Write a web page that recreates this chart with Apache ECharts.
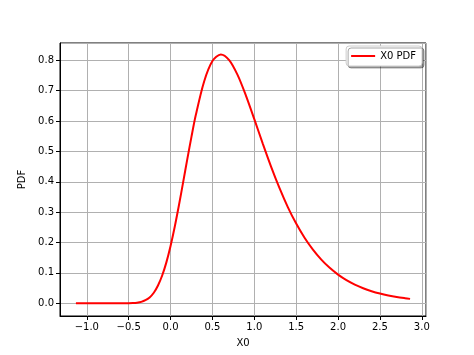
<!DOCTYPE html>
<html>
<head>
<meta charset="utf-8">
<script src="https://cdn.jsdelivr.net/npm/echarts@6/dist/echarts.min.js"></script>
<style>
  html, body { margin: 0; padding: 0; background: #fff; }
  #chart { width: 474px; height: 355px; }
</style>
</head>
<body>
<div id="chart"></div>
<script>
// values
const xs = [-1.13, -1.0, -0.8, -0.6, -0.5, -0.45, -0.4, -0.35, -0.3, -0.25, -0.2, -0.15, -0.1, -0.05,
  0.0, 0.05, 0.1, 0.15, 0.2, 0.25, 0.3, 0.4, 0.5, 0.6, 0.7, 0.8, 0.9, 1.0, 1.1, 1.2, 1.3, 1.4,
  1.5, 1.6, 1.7, 1.8, 1.9, 2.0, 2.1, 2.2, 2.3, 2.4, 2.5, 2.6, 2.7, 2.8, 2.86];
const pdf = [0.0, 0.0, 0.0, 0.0, 0.0002, 0.0007, 0.002, 0.0046, 0.0100, 0.0193, 0.0347, 0.0584, 0.0913, 0.1346,
  0.1887, 0.252, 0.3227, 0.398, 0.4746, 0.5486, 0.618, 0.7296, 0.7975, 0.8193, 0.8006, 0.7518, 0.6837, 0.6062, 0.5265, 0.450, 0.3797, 0.3167,
  0.2623, 0.2156, 0.1764, 0.1435, 0.1165, 0.0943, 0.0761, 0.0614, 0.0494, 0.0397, 0.0319, 0.0256, 0.0205, 0.0165, 0.0144];
const seriesName = 'X0 PDF';

const chart = echarts.init(document.getElementById('chart'));
const font = 'DejaVu Sans';

chart.setOption({
  animation: false,
  grid: {
    left: 60, top: 43, right: 48, bottom: 39,
    show: true, borderColor: '#000', borderWidth: 1
  },
  legend: {
    data: [seriesName],
    right: 52, top: 46,
    itemWidth: 24, itemHeight: 2,
    icon: 'rect',
    padding: [5, 6, 5, 5],
    backgroundColor: '#fff',
    borderColor: '#ccc', borderWidth: 1, borderRadius: 3,
    shadowBlur: 0, shadowColor: 'rgba(0,0,0,0.35)', shadowOffsetX: 2, shadowOffsetY: 2,
    textStyle: { color: '#000', fontFamily: font, fontSize: 10 }
  },
  xAxis: {
    type: 'value',
    min: -1.32, max: 3.05,
    splitNumber: 8,
    name: 'X0', nameLocation: 'middle', nameGap: 22,
    nameTextStyle: { color: '#000', fontFamily: font, fontSize: 10 },
    axisLine: { onZero: false, lineStyle: { color: '#000', width: 1 } },
    axisTick: { length: 4, lineStyle: { color: '#000' } },
    axisLabel: { color: '#000', fontFamily: font, fontSize: 10, margin: 6,
      showMinLabel: false, showMaxLabel: false,
      formatter: v => v.toFixed(1).replace('-', '\u2212') },
    splitLine: { show: true, lineStyle: { color: '#b0b0b0', width: 1 } }
  },
  yAxis: {
    type: 'value',
    min: -0.042, max: 0.857,
    splitNumber: 9,
    name: 'PDF', nameLocation: 'middle', nameGap: 33, nameRotate: 90,
    nameTextStyle: { color: '#000', fontFamily: font, fontSize: 10 },
    axisLine: { show: true, onZero: false, lineStyle: { color: '#000', width: 1 } },
    axisTick: { show: true, length: 4, lineStyle: { color: '#000' } },
    axisLabel: { color: '#000', fontFamily: font, fontSize: 10, margin: 6,
      showMinLabel: false, showMaxLabel: false,
      formatter: v => v.toFixed(1) },
    splitLine: { show: true, lineStyle: { color: '#b0b0b0', width: 1 } }
  },
  series: [{
    name: seriesName,
    type: 'line',
    data: xs.map((x, i) => [x, pdf[i]]),
    smooth: 0.3,
    showSymbol: false,
    lineStyle: { color: '#ff0000', width: 2 },
    itemStyle: { color: '#ff0000' }
  }]
});
</script>
</body>
</html>
